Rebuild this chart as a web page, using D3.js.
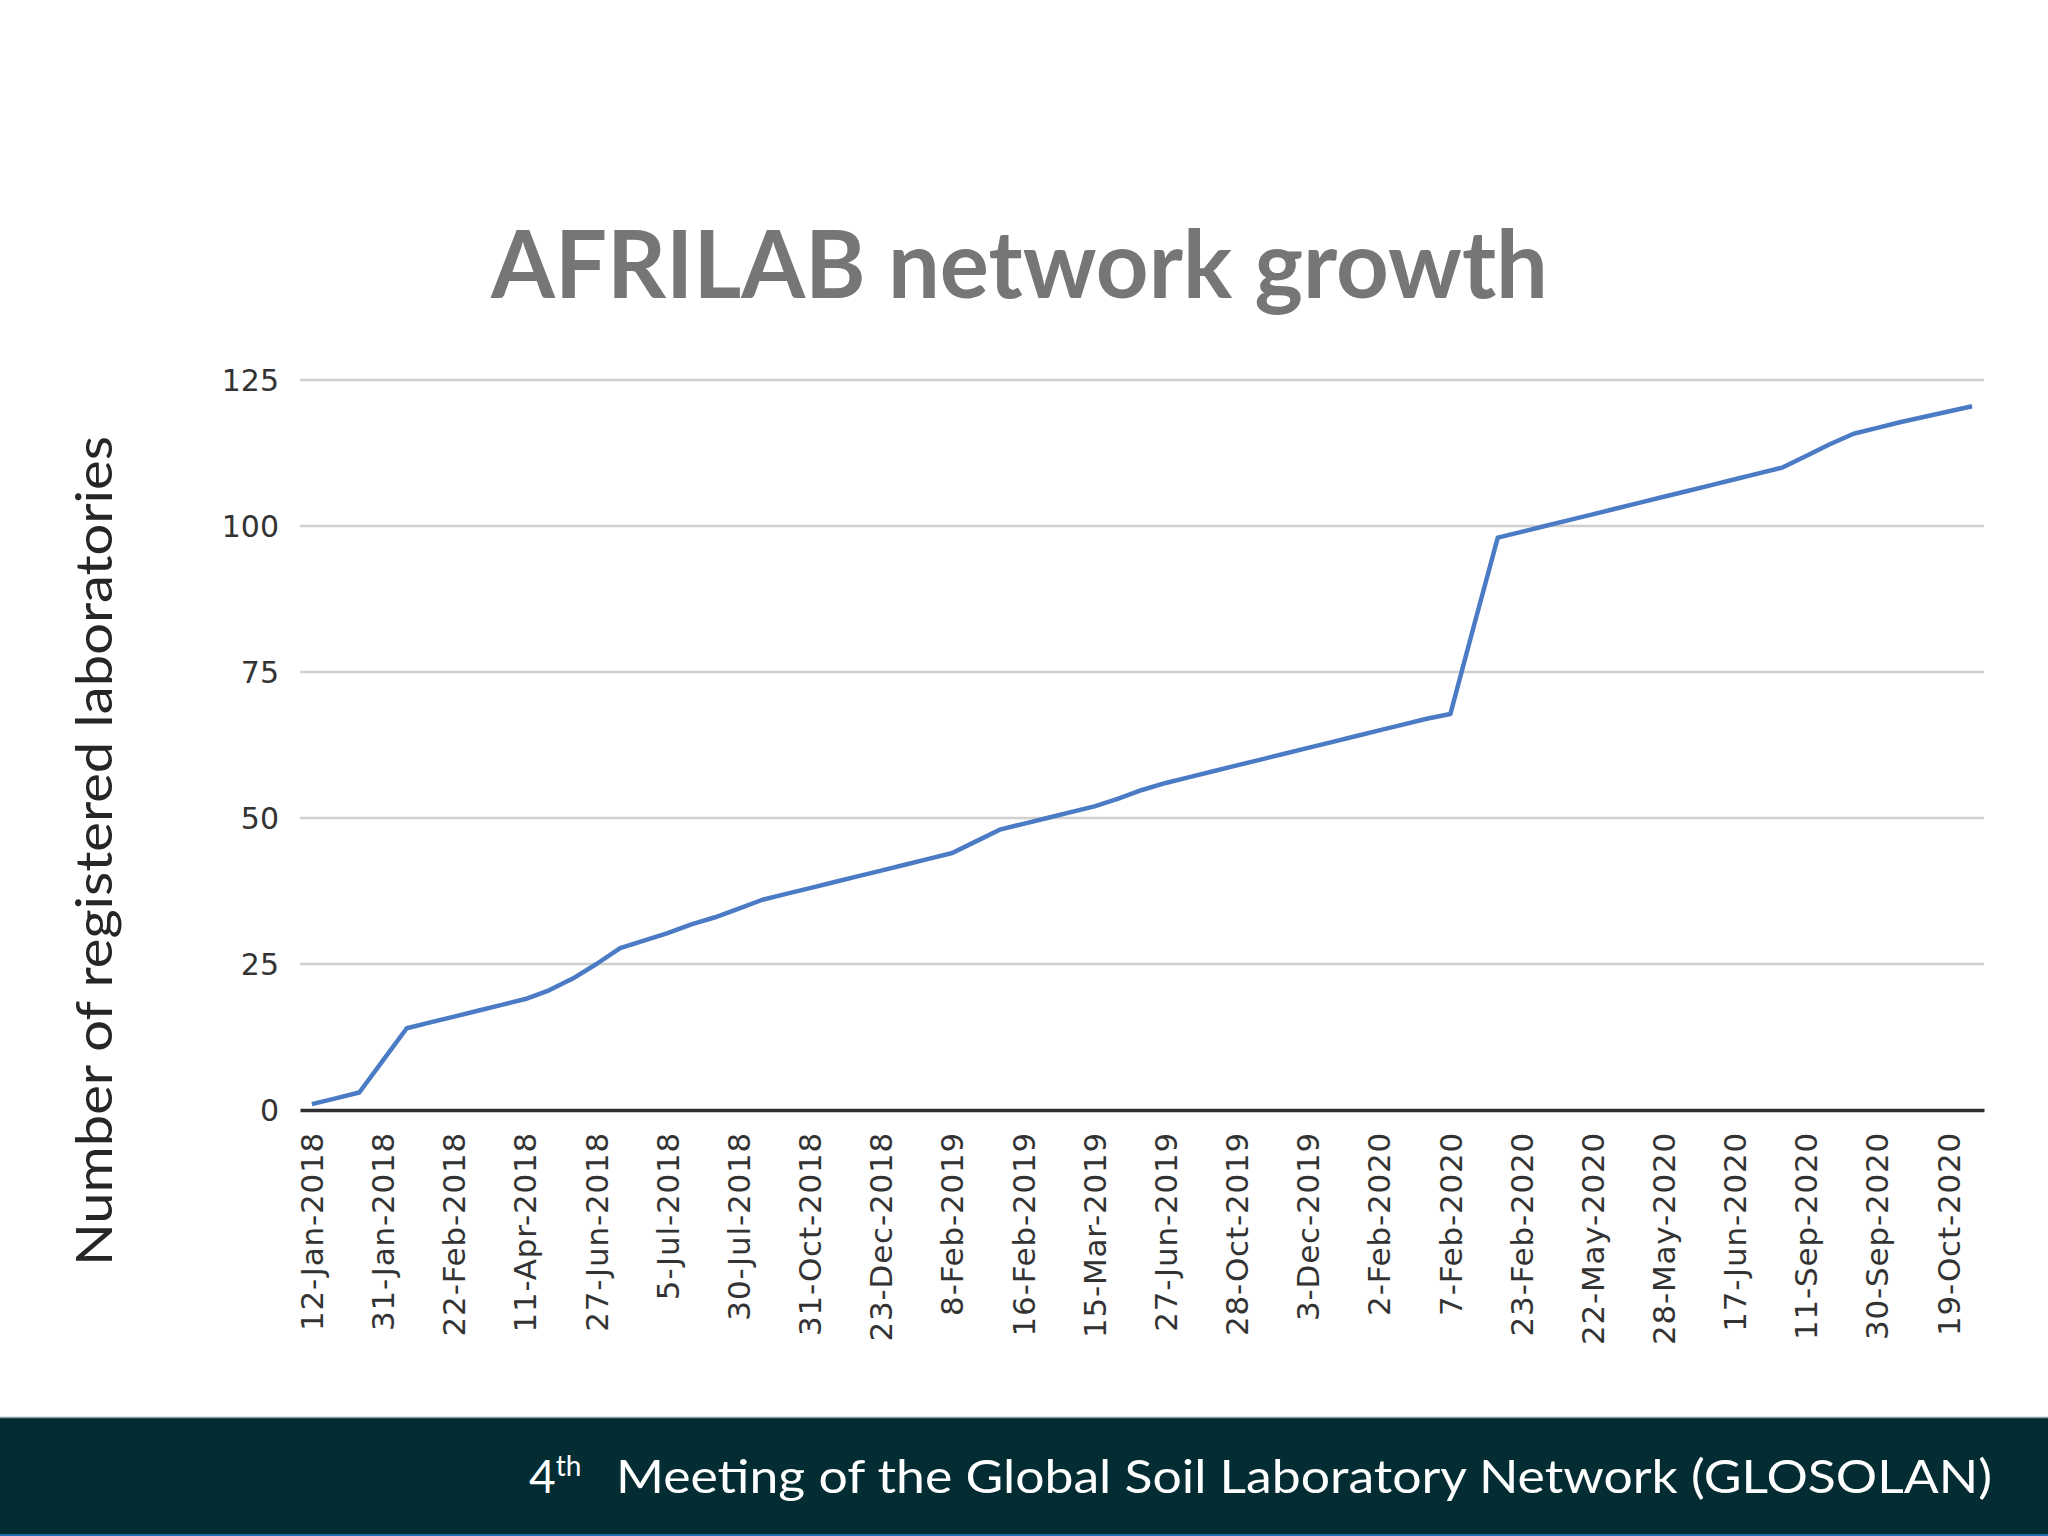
<!DOCTYPE html>
<html>
<head>
<meta charset="utf-8">
<script src="https://cdn.jsdelivr.net/npm/d3@7"></script>
<style>
  body { margin: 0; background: #ffffff; }
  .title { font-family: Lato, 'Open Sans', sans-serif; font-weight: 700; fill: #767676; }
  .y-title { font-family: Lato, 'Open Sans', sans-serif; fill: #262626; }
  .x-axis text, .y-axis text { font-family: 'DejaVu Sans', Verdana, sans-serif; fill: #333333; }
  .x-axis .domain { stroke: #2e2e2e; stroke-width: 3.5; }
  .y-axis .domain { display: none; }
  .grid line { stroke: #d0d0d0; stroke-width: 2.5; }
  .lineLabs { fill: none; stroke: #4a7bc4; stroke-width: 4.5; stroke-linejoin: round; }
  .footer-text { font-family: Lato, 'Open Sans', sans-serif; fill: #ffffff; }
</style>
</head>
<body>
<div id="chart"></div>
<script>
// Registration dates shown on the axis (every third category)
const tickLabels = [
  '12-Jan-2018', '31-Jan-2018', '22-Feb-2018', '11-Apr-2018', '27-Jun-2018', '5-Jul-2018',
  '30-Jul-2018', '31-Oct-2018', '23-Dec-2018', '8-Feb-2019', '16-Feb-2019', '15-Mar-2019',
  '27-Jun-2019', '28-Oct-2019', '3-Dec-2019', '2-Feb-2020', '7-Feb-2020', '23-Feb-2020',
  '22-May-2020', '28-May-2020', '17-Jun-2020', '11-Sep-2020', '30-Sep-2020', '19-Oct-2020'
];
const labelEvery = 3;

// Cumulative number of registered laboratories, one value per category
const labCounts = [
  1, 2, 3, 8.5, 14, 15, 16, 17, 18, 19,
  20.5, 22.5, 25, 27.7, 29, 30.3, 31.8, 33, 34.5, 36,
  37, 38, 39, 40, 41, 42, 43, 44, 46, 48,
  49, 50, 51, 52, 53.3, 54.8, 56, 57, 58, 59,
  60, 61, 62, 63, 64, 65, 66, 67, 67.8, 83,
  98, 99, 100, 101, 102, 103, 104, 105, 106, 107,
  108, 109, 110, 112, 114, 115.8, 116.8, 117.8, 118.7, 119.6,
  120.5
];
const yTicks = [0, 25, 50, 75, 100, 125];

const chartTitle = 'AFRILAB network growth';
const yTitle = 'Number of registered laboratories';
const footerText = 'Meeting of the Global Soil Laboratory Network (GLOSOLAN)';

class GrowthChart {

    constructor(container, width, height) {
        this.width = width;
        this.height = height;
        this.left = 300; this.right = 1984;
        this.top = 380; this.bottom = 1110;

        this.svg = d3.select(container).append('svg').attr('width', width).attr('height', height);
        this.grid = this.svg.append('g').classed('grid', true);
        this.axisX = this.svg.append('g').attr('class', 'x-axis').attr('transform', `translate(0, ${this.bottom})`);
        this.axisY = this.svg.append('g').attr('class', 'y-axis').attr('transform', `translate(${this.left}, 0)`);
        this.lines = this.svg.append('g');
    }

    updateScalesAxes(values) {
        this.scaleX = d3.scaleBand().domain(d3.range(values.length)).range([this.left, this.right]);
        this.scaleY = d3.scaleLinear().domain([0, 125]).range([this.bottom, this.top]);

        // horizontal gridlines
        this.grid.selectAll('line').data(yTicks.filter(d => d > 0)).join('line')
            .attr('x1', this.left).attr('x2', this.right)
            .attr('y1', d => this.scaleY(d)).attr('y2', d => this.scaleY(d));

        this.axisY.call(d3.axisLeft(this.scaleY).tickValues(yTicks).tickSize(0).tickPadding(21));
        this.axisY.selectAll('text').style('font-size', '30px').attr('dy', '0.36em');

        this.axisX.call(d3.axisBottom(this.scaleX)
            .tickValues(d3.range(0, values.length, labelEvery))
            .tickFormat(i => tickLabels[i / labelEvery])
            .tickSize(0).tickSizeOuter(0));
        this.axisX.selectAll('text')
            .style('font-size', '31px').style('letter-spacing', '0.8px')
            .attr('text-anchor', 'end')
            .attr('transform', 'rotate(-90)')
            .attr('x', -22).attr('y', 0).attr('dy', '0.36em');
        return this;
    }

    addLabels() {
        this.svg.append('text').classed('title', true)
            .attr('x', 491).attr('y', 298)
            .style('font-size', '94px')
            .attr('textLength', 1057).attr('lengthAdjust', 'spacingAndGlyphs')
            .text(chartTitle);

        this.svg.append('text').classed('y-title', true)
            .attr('transform', `translate(${112}, ${851}) rotate(-90)`)
            .attr('text-anchor', 'middle')
            .style('font-size', '50px')
            .attr('textLength', 830).attr('lengthAdjust', 'spacingAndGlyphs')
            .text(yTitle);
        return this;
    }

    addFooter() {
        let band = this.svg.append('g');
        band.append('rect').attr('x', 0).attr('y', 1417).attr('width', this.width).attr('height', this.height - 1417)
            .attr('fill', '#032d33');
        band.append('line').attr('x1', 0).attr('x2', this.width).attr('y1', 1417.5).attr('y2', 1417.5)
            .attr('stroke', '#8aa3a8').attr('stroke-width', 1.5);
        band.append('line').attr('x1', 0).attr('x2', this.width).attr('y1', 1535).attr('y2', 1535)
            .attr('stroke', '#1d6ea8').attr('stroke-width', 2);

        let t = band.append('text').classed('footer-text', true).attr('y', 1493).style('font-size', '46px');
        t.append('tspan').attr('x', 529).text('4');
        t.append('tspan').attr('dy', -17).style('font-size', '28px').text('th');
        band.append('text').classed('footer-text', true)
            .attr('x', 616).attr('y', 1493).style('font-size', '46px')
            .attr('textLength', 1376).attr('lengthAdjust', 'spacingAndGlyphs')
            .text(footerText);
        return this;
    }

    plotline(values) {
        let line = d3.line()
            .x((d, i) => this.scaleX(i) + this.scaleX.bandwidth() / 2)
            .y(d => this.scaleY(d));
        this.lines.append('path').datum(values).attr('class', 'lineLabs').attr('d', line);
        return this;
    }

    render(values) {
        this.updateScalesAxes(values);
        this.plotline(values);
        this.addLabels();
        this.addFooter();
        return this;
    }
}

new GrowthChart('#chart', 2048, 1536).render(labCounts);
</script>
</body>
</html>
